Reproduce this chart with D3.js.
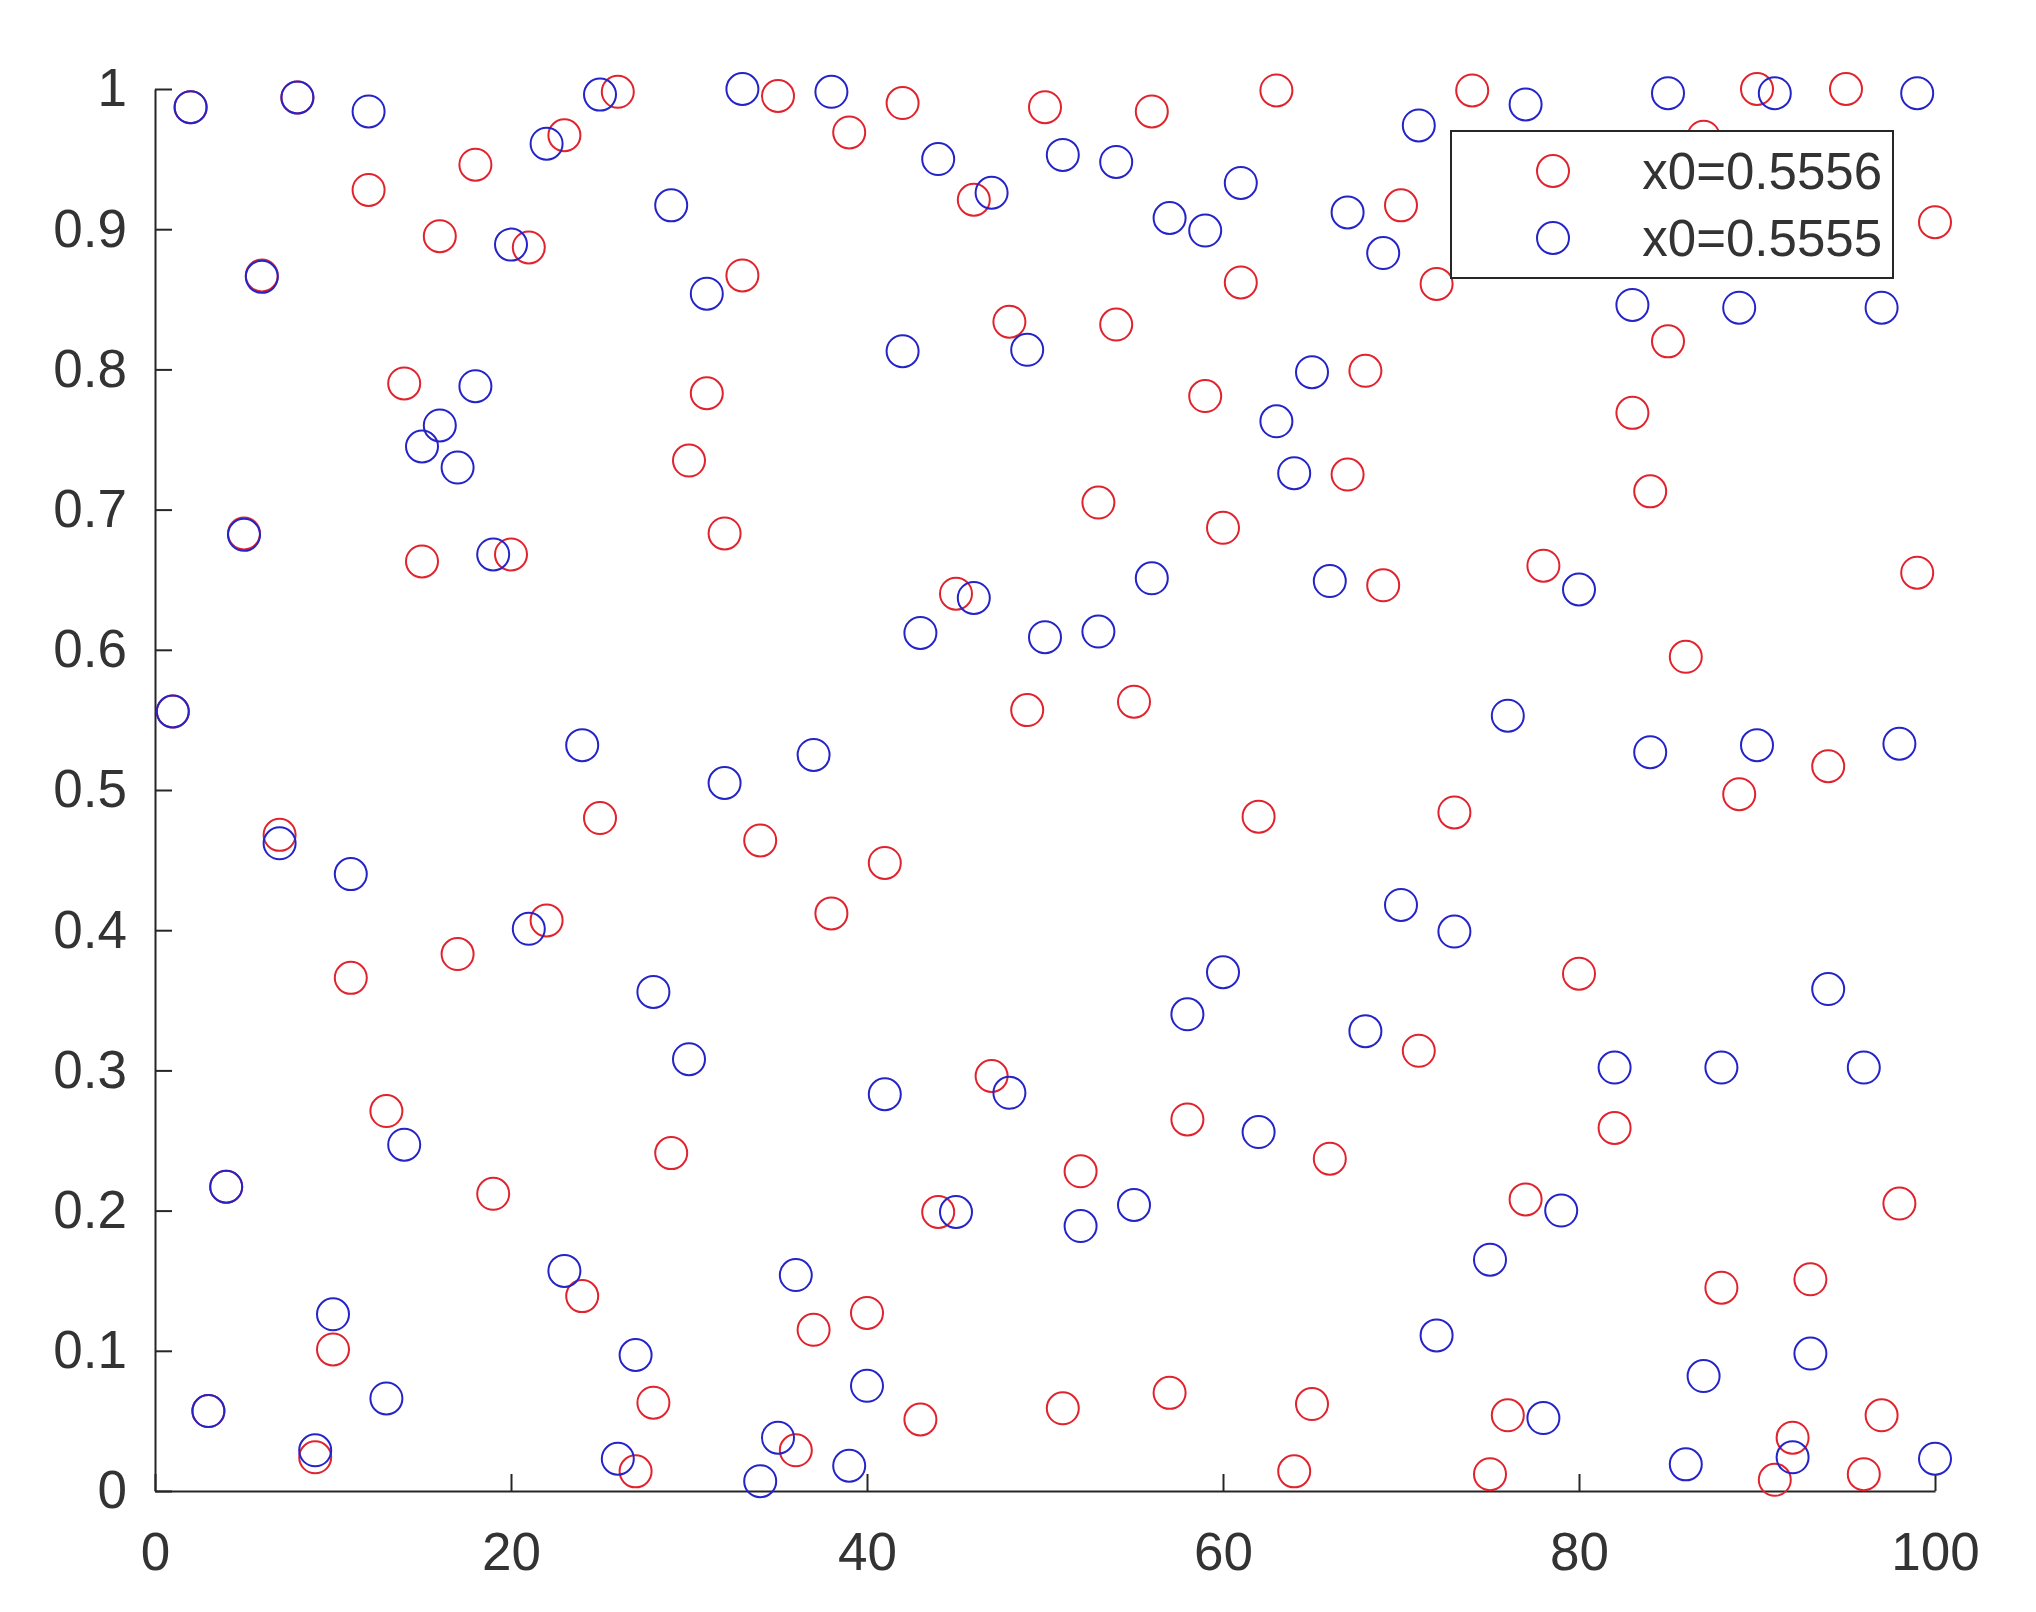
<!DOCTYPE html>
<html>
<head>
<meta charset="utf-8">
<script src="https://cdn.jsdelivr.net/npm/d3@7"></script>
<style>
  html, body { margin: 0; padding: 0; background: #fff; }
  svg { display: block; }
</style>
</head>
<body>
<div id="chart"></div>
<script>
// values, one per step n = 1..100
const steps = d3.range(1, 101);

const seriesNames = ["x0=0.5556", "x0=0.5555"];
const seriesColors = ["#e0232d", "#2424c8"];

const redValues = [
  0.556, 0.987, 0.057, 0.217, 0.683, 0.867, 0.468, 0.994, 0.024, 0.101,
  0.366, 0.928, 0.271, 0.790, 0.663, 0.895, 0.383, 0.946, 0.212, 0.668,
  0.887, 0.407, 0.967, 0.139, 0.480, 0.998, 0.014, 0.063, 0.241, 0.735,
  0.783, 0.683, 0.867, 0.464, 0.995, 0.029, 0.115, 0.412, 0.969, 0.127,
  0.448, 0.990, 0.051, 0.199, 0.640, 0.921, 0.296, 0.834, 0.557, 0.987,
  0.059, 0.228, 0.705, 0.832, 0.563, 0.984, 0.070, 0.265, 0.781, 0.687,
  0.862, 0.481, 0.999, 0.014, 0.062, 0.237, 0.725, 0.799, 0.646, 0.917,
  0.314, 0.861, 0.484, 0.999, 0.012, 0.054, 0.208, 0.660, 0.900, 0.369,
  0.930, 0.259, 0.769, 0.713, 0.820, 0.595, 0.966, 0.145, 0.497, 1.000,
  0.008, 0.038, 0.151, 0.517, 1.000, 0.012, 0.054, 0.205, 0.655, 0.905
];

const blueValues = [
  0.556, 0.987, 0.057, 0.217, 0.682, 0.866, 0.462, 0.994, 0.029, 0.126,
  0.440, 0.984, 0.066, 0.247, 0.745, 0.760, 0.730, 0.788, 0.668, 0.889,
  0.401, 0.961, 0.157, 0.532, 0.996, 0.023, 0.097, 0.356, 0.917, 0.308,
  0.854, 0.505, 1.000, 0.007, 0.038, 0.154, 0.525, 0.998, 0.018, 0.075,
  0.283, 0.813, 0.612, 0.950, 0.199, 0.637, 0.926, 0.284, 0.814, 0.609,
  0.953, 0.189, 0.613, 0.948, 0.204, 0.651, 0.908, 0.340, 0.899, 0.370,
  0.933, 0.256, 0.763, 0.726, 0.798, 0.649, 0.912, 0.328, 0.883, 0.418,
  0.974, 0.111, 0.399, 0.955, 0.165, 0.553, 0.989, 0.052, 0.200, 0.643,
  0.918, 0.302, 0.846, 0.527, 0.997, 0.019, 0.082, 0.302, 0.844, 0.532,
  0.997, 0.024, 0.098, 0.358, 0.920, 0.302, 0.844, 0.533, 0.997, 0.023
];

const xTicks = [0, 20, 40, 60, 80, 100];
const yTicks = [0, 0.1, 0.2, 0.3, 0.4, 0.5, 0.6, 0.7, 0.8, 0.9, 1];

const width = 2036;
const height = 1612;
const margin = { top: 89, right: 101, bottom: 121, left: 155 };
const axisColor = "#262626";
const textColor = "#333333";
const font = "'Liberation Sans', Arial, Helvetica, sans-serif";

const svg = d3.select("#chart").append("svg")
  .attr("width", width)
  .attr("height", height)
  .style("background", "#fff");

const x = d3.scaleLinear()
  .domain([0, 100])
  .range([margin.left, width - margin.right]);

const y = d3.scaleLinear()
  .domain([0, 1])
  .range([height - margin.bottom, margin.top]);

// axes: only left and bottom, ticks pointing inward
const xAxis = svg.append("g")
  .attr("transform", `translate(0,${height - margin.bottom})`)
  .call(d3.axisBottom(x).tickValues(xTicks).tickFormat(d3.format("d"))
    .tickSizeInner(-17).tickSizeOuter(0).tickPadding(41));

const yAxis = svg.append("g")
  .attr("transform", `translate(${margin.left},0)`)
  .call(d3.axisLeft(y).tickValues(yTicks).tickFormat(d3.format("~g"))
    .tickSizeInner(-17).tickSizeOuter(0).tickPadding(28));

[xAxis, yAxis].forEach(ax => {
  ax.select(".domain").attr("stroke", axisColor).attr("stroke-width", 2);
  ax.selectAll(".tick line").attr("stroke", axisColor).attr("stroke-width", 2);
  ax.selectAll(".tick text")
    .attr("fill", textColor)
    .style("font-family", font)
    .style("font-size", "53px");
});

// markers: red first, blue drawn over it
const series = [redValues, blueValues];
series.forEach((vals, i) => {
  svg.append("g")
    .selectAll("circle")
    .data(steps.map((n, k) => ({ n, v: vals[k] })))
    .enter()
    .append("circle")
    .attr("cx", d => x(d.n))
    .attr("cy", d => y(d.v))
    .attr("r", 16)
    .attr("fill", "none")
    .attr("stroke", seriesColors[i])
    .attr("stroke-width", 2);
});

// legend box (opaque, covers points behind it)
const legend = svg.append("g");
legend.append("rect")
  .attr("x", 1451)
  .attr("y", 131)
  .attr("width", 442)
  .attr("height", 147)
  .attr("fill", "#fff")
  .attr("stroke", axisColor)
  .attr("stroke-width", 2);

seriesNames.forEach((name, i) => {
  const cy = 171 + i * 67;
  legend.append("circle")
    .attr("cx", 1553)
    .attr("cy", cy)
    .attr("r", 16)
    .attr("fill", "none")
    .attr("stroke", seriesColors[i])
    .attr("stroke-width", 2);
  legend.append("text")
    .attr("x", 1882)
    .attr("y", cy)
    .attr("dy", "0.35em")
    .attr("text-anchor", "end")
    .attr("fill", textColor)
    .style("font-family", font)
    .style("font-size", "51px")
    .text(name);
});
</script>
</body>
</html>
